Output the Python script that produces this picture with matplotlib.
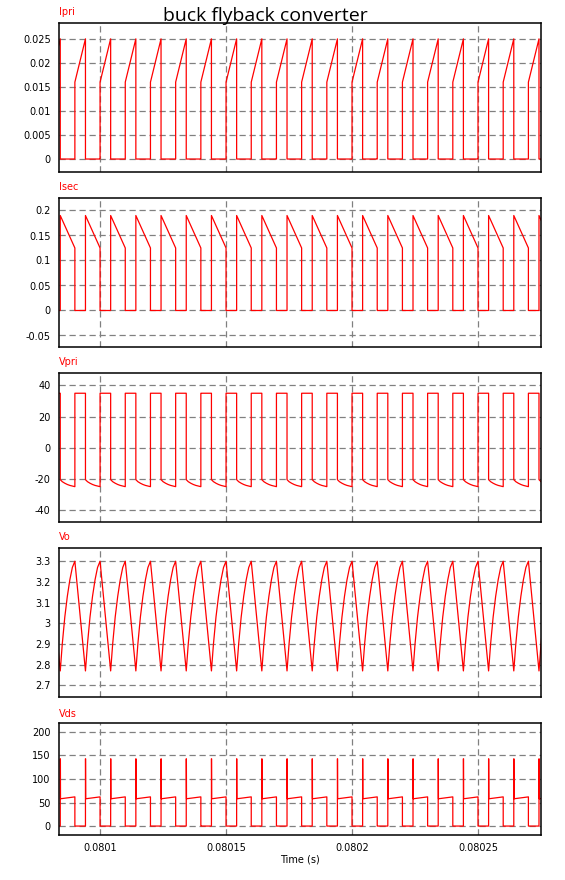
import numpy as np
import matplotlib
matplotlib.use("Agg")
import matplotlib.pyplot as plt

# -----------------------------
# Data: one switching period (10 us),
# repeated over the window shown
# -----------------------------
period = 1e-5
first_period = 0.08008
n_periods = 21
t_min, t_max = 0.0800837, 0.080275

# phase within period (fraction of T) and values
ipri_phase = [0.0, 0.0, 0.42, 0.42, 1.0]
ipri_vals = [0.0, 0.016, 0.025, 0.0, 0.0]

isec_phase = [0.0, 0.42, 0.42, 1.0, 1.0]
isec_vals = [0.0, 0.0, 0.19, 0.125, 0.0]

vpri_phase = [0.0, 0.42, 0.42, 0.5, 0.6, 0.7, 0.8, 0.9, 1.0, 1.0]
vpri_vals = [35, 35, -20.5, -21.8, -22.8, -23.6, -24.2, -24.6, -25, 35]

vo_phase = [0.0, 0.42, 0.5, 0.6, 0.7, 0.8, 0.9, 1.0]
vo_vals = [3.3, 2.77, 2.9, 3.03, 3.13, 3.21, 3.27, 3.3]

vds_phase = [0.0, 0.42, 0.42, 0.425, 0.43, 1.0, 1.0]
vds_vals = [0, 0, 143, 143, 58, 62, 0]

signals = [
    ("Ipri", ipri_phase, ipri_vals, (-0.0027, 0.0283), [0, 0.005, 0.01, 0.015, 0.02, 0.025],
     ["0", "0.005", "0.01", "0.015", "0.02", "0.025"]),
    ("Isec", isec_phase, isec_vals, (-0.073, 0.225), [-0.05, 0, 0.05, 0.1, 0.15, 0.2],
     ["-0.05", "0", "0.05", "0.1", "0.15", "0.2"]),
    ("Vpri", vpri_phase, vpri_vals, (-47.7, 48), [-40, -20, 0, 20, 40],
     ["-40", "-20", "0", "20", "40"]),
    ("Vo", vo_phase, vo_vals, (2.644, 3.364), [2.7, 2.8, 2.9, 3.0, 3.1, 3.2, 3.3],
     ["2.7", "2.8", "2.9", "3", "3.1", "3.2", "3.3"]),
    ("Vds", vds_phase, vds_vals, (-19, 219), [0, 50, 100, 150, 200],
     ["0", "50", "100", "150", "200"]),
]

x_ticks = [0.0801, 0.08015, 0.0802, 0.08025]
x_labels = ["0.0801", "0.08015", "0.0802", "0.08025"]

# axes boxes in pixels (top, bottom)
W, H = 565, 880
left, right = 59, 541
boxes = [(23, 172), (198, 347), (373, 522), (548, 697), (723, 835)]

fig = plt.figure(figsize=(W / 100, H / 100), dpi=100)
fig.text(265 / W, 1 - 16 / H, "buck flyback converter", ha="center", va="center",
         fontsize=14, family="Open Sans")

for (name, ph, vals, ylim, yt, ytl), (top, bot) in zip(signals, boxes):
    ax = fig.add_axes([left / W, 1 - bot / H, (right - left) / W, (bot - top) / H])
    t = np.concatenate([first_period + k * period + np.array(ph) * period for k in range(n_periods)])
    v = np.tile(vals, n_periods)
    ax.plot(t, v, color="red", lw=0.9)
    ax.set_xlim(t_min, t_max)
    ax.set_ylim(*ylim)
    ax.set_yticks(yt)
    ax.set_yticklabels(ytl)
    ax.set_xticks(x_ticks)
    if bot == boxes[-1][1]:
        ax.set_xticklabels(x_labels)
        ax.set_xlabel("Time (s)", fontsize=7, labelpad=1)
    else:
        ax.set_xticklabels([])
    ax.tick_params(length=0, labelsize=7, pad=6)
    ax.grid(True, color="gray", linestyle=(0, (5, 3)), lw=0.9)
    ax.set_axisbelow(True)
    for s in ax.spines.values():
        s.set_linewidth(1.1)
    ax.text(0, 1.04, name, transform=ax.transAxes, color="red", fontsize=7,
            ha="left", va="bottom")

fig.savefig("out.png", dpi=100)
